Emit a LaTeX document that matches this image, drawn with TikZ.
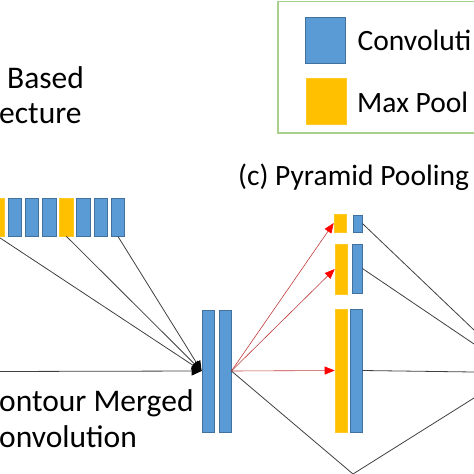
\documentclass[tikz,border=0pt]{standalone}
\usepackage{fontspec}
\setmainfont{Carlito}
\usetikzlibrary{arrows.meta}
\definecolor{convblue}{RGB}{91,155,213}
\definecolor{convedge}{RGB}{65,113,156}
\definecolor{poolyellow}{RGB}{255,192,0}
\definecolor{legendgreen}{RGB}{169,209,142}
\definecolor{linkgray}{RGB}{64,64,64}
\definecolor{arrowred}{RGB}{192,60,60}

\begin{document}
\begin{tikzpicture}[x=1pt, y=-1pt,
		conv/.style={draw=convedge, fill=convblue, line width=0.8pt, inner sep=0pt},
		pool/.style={draw=poolyellow!85!white, fill=poolyellow, line width=0.6pt, inner sep=0pt},
		link/.style={draw=linkgray, line width=0.8pt},
		merge/.style={link, -{Triangle[length=10pt, width=9pt, color=black]}},
		spread/.style={draw=arrowred, line width=0.6pt, -{Triangle[length=10pt, width=8pt, color=red]}},
		txt/.style={anchor=base west, inner sep=0pt, font=\fontsize{31.5}{38}\selectfont},
		keytxt/.style={txt, font=\fontsize{29.5}{36}\selectfont}]
			%%%%% START %%%%%
			
			\useasboundingbox (0, 0) rectangle (474, 474);
			\clip (0, 0) rectangle (474, 474);
			
			% legend
			\draw[legendgreen, line width=1.5pt] (278, 1.5) rectangle (490, 133);
			\node[conv, minimum width=40pt, minimum height=46pt] (keyconv) at (325, 40) {};
			\node[pool, minimum width=40pt, minimum height=46pt] (keypool) at (326, 101) {};
			\node[keytxt] (convtext) at (357.5, 50) {Convoluti};
			\node[keytxt] (pooltext) at (357, 112) {Max Pool};
			
			% titles
			\node[txt] (titlea) at (7, 88) {Based};
			\node[txt] (titleb) at (-1, 123) {ecture};
			\node[keytxt] (titlec) at (238, 185) {(c) Pyramid Pooling};
			\node[txt] (titlem) at (-1, 411) {ontour Merged};
			\node[txt] (titlen) at (-1, 447) {onvolution};
			
			% contour based row
			\foreach \k/\kind in {0/pool,1/conv,2/conv,3/conv,4/pool,5/conv,6/conv,7/conv}
				\node[\kind, minimum width=13.5pt, minimum height=38pt] (row\k) at ({-2.45+17.2*\k}, 217) {};
			
			% merged convolution
			\node[conv, minimum width=12pt, minimum height=122pt] (merge1) at (208, 371) {};
			\node[conv, minimum width=12pt, minimum height=122pt] (merge2) at (225, 371) {};
			
			% pyramid pooling
			\node[pool, minimum width=12pt, minimum height=18pt] (pyr1) at (340, 223) {};
			\node[conv, minimum width=9pt, minimum height=17pt] (bin1) at (357.5, 223.5) {};
			\node[pool, minimum width=12pt, minimum height=50pt] (pyr2) at (341, 269) {};
			\node[conv, minimum width=10pt, minimum height=49pt] (bin2) at (357, 268.5) {};
			\node[pool, minimum width=12pt, minimum height=123pt] (pyr3) at (341, 370.5) {};
			\node[conv, minimum width=12pt, minimum height=123pt] (bin3) at (356, 370.5) {};
			
			\coordinate (leftin) at (-5, 371.5);
			\coordinate (out1) at (474, 330);
			\coordinate (out2) at (474, 344);
			\coordinate (out3) at (474, 372);
			\coordinate (low) at (353, 474);
			\coordinate (out4) at (474, 398);
			
			\draw[merge] (row0.south) -- (merge1.west);
			\draw[merge] (row4.south) -- (merge1.west);
			\draw[merge] (row7.south) -- (merge1.west);
			\draw[merge] (leftin) -- (merge1.west);
			
			\draw[spread] (merge2.east) -- (pyr1.west);
			\draw[spread] (merge2.east) -- (pyr2.west);
			\draw[spread] (merge2.east) -- (pyr3.west);
			
			\draw[link] (bin1.east) -- (out1);
			\draw[link] (bin2.east) -- (out2);
			\draw[link] (bin3.east) -- (out3);
			\draw[link] (merge2.east) -- (low) -- (out4);
			
			%%%%% END %%%%%
		\end{tikzpicture}
\end{document}
